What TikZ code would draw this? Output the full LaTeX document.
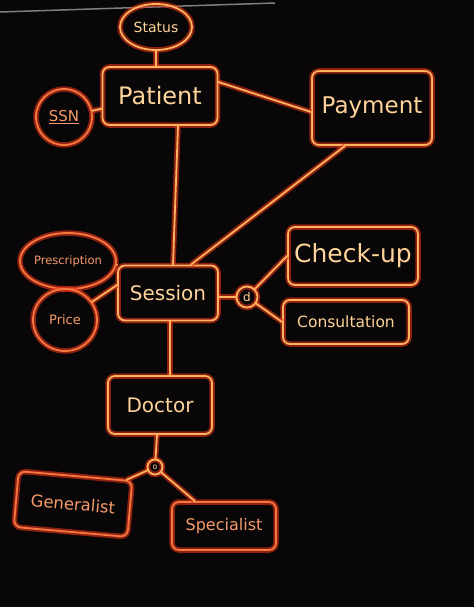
\documentclass[tikz,border=0pt]{standalone}
\usepackage{fontspec}
\setmainfont{DejaVu Sans}
\usetikzlibrary{shapes.geometric,calc}
\definecolor{glowred}{HTML}{E8321A}
\definecolor{core}{HTML}{FFB35C}
\definecolor{txt}{HTML}{FFD49A}
\definecolor{bg}{HTML}{080606}
\tikzset{
  glow/.style={draw=core, line width=1.8pt, preaction={draw=glowred, line width=5.5pt, opacity=0.6}},
  ent/.style={glow, rounded corners=7pt, inner sep=0pt, text=txt, align=center},
  attr/.style={glow, ellipse, inner sep=0pt, text=txt},
  junc/.style={glow, circle, inner sep=0pt, text=txt},
  conn/.style={glow, line cap=round},
  redder/.style={draw=glowred!45!core, text=glowred!35!txt},
}
\begin{document}
\begin{tikzpicture}[x=1pt,y=-1pt]
\fill[bg] (0,0) rectangle (474,607);
\useasboundingbox (0,0) rectangle (474,607);
\draw[gray!60, line width=1.5pt, opacity=0.7] (0,12) -- (275,3);
% entities
\node[ent, minimum width=115, minimum height=58, font=\fontsize{24}{26}\selectfont] (patient) at (160,96) {Patient};
\node[ent, minimum width=120, minimum height=74, font=\fontsize{23}{25}\selectfont] (payment) at (372,108) {Payment};
\node[ent, minimum width=100, minimum height=55, font=\fontsize{20}{22}\selectfont] (session) at (168,293) {Session};
\node[ent, minimum width=130, minimum height=58, font=\fontsize{25}{27}\selectfont] (checkup) at (353,256) {Check-up};
\node[ent, minimum width=126, minimum height=44, font=\fontsize{15.5}{17}\selectfont] (consult) at (346,322) {Consultation};
\node[ent, minimum width=104, minimum height=58, font=\fontsize{20}{22}\selectfont] (doctor) at (160,405) {Doctor};
\node[ent, redder, minimum width=114, minimum height=56, rotate=-5, font=\fontsize{16.5}{18}\selectfont] (general) at (73,504) {Generalist};
\node[ent, redder, minimum width=104, minimum height=48, font=\fontsize{16}{18}\selectfont] (special) at (224,526) {Specialist};
% attributes
\node[attr, minimum width=72, minimum height=46, font=\fontsize{14}{16}\selectfont] (status) at (156,27) {Status};
\node[junc, redder, minimum size=56, font=\fontsize{15}{17}\selectfont] (ssn) at (64,117) {\underline{SSN}};
\node[attr, redder, minimum width=90, minimum height=56, font=\fontsize{11.5}{13}\selectfont] (presc) at (68,261) {Prescription};
\node[attr, redder, minimum width=64, minimum height=62, font=\fontsize{13}{15}\selectfont] (price) at (65,320) {Price};
% junctions
\node[junc, minimum size=21, font=\fontsize{12}{13}\selectfont] (dj) at (247,297) {d};
\node[junc, minimum size=15, font=\fontsize{8}{9}\selectfont] (oj) at (155,467) {o};
% connectors
\draw[conn] (status) -- (patient.north -| status);
\draw[conn] (ssn) -- (patient);
\draw[conn] ([yshift=14]patient.east) -- ([yshift=-4]payment.west);
\draw[conn] ([xshift=18]patient.south) -- ([xshift=5]session.north);
\draw[conn] ([xshift=-27]payment.south) -- ([xshift=23]session.north);
\draw[conn] (presc) -- (session.north west);
\draw[conn] (price) -- ([yshift=8]session.west);
\draw[conn] (session.east |- dj) -- (dj);
\draw[conn] (dj) -- (checkup.west);
\draw[conn] (dj) -- (consult.west);
\draw[conn] ([xshift=2]session.south) -- ([xshift=10]doctor.north);
\draw[conn] ([xshift=-3]doctor.south) -- (oj);
\draw[conn] (oj) -- (general);
\draw[conn] (oj) -- (special);
\end{tikzpicture}
\end{document}
